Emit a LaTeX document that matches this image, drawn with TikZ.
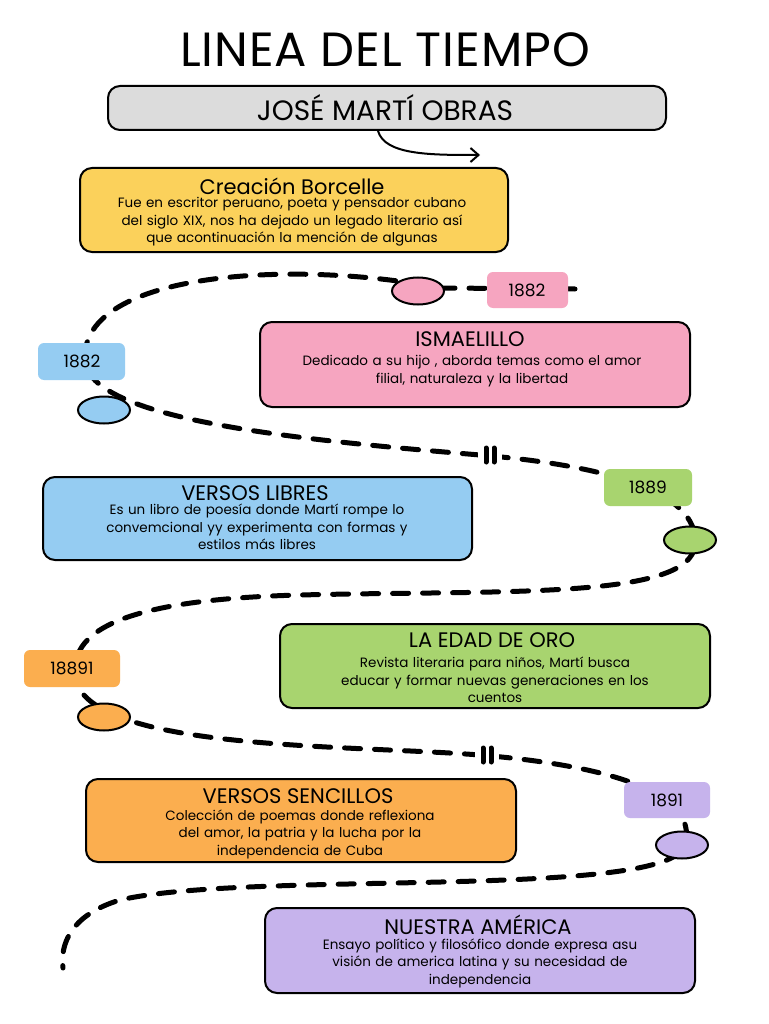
\documentclass[tikz,border=0pt]{standalone}
\usepackage{fontspec}
\setmainfont{Poppins}
\usetikzlibrary{arrows.meta,shapes.geometric}
\definecolor{yel}{HTML}{FBD15B}
\definecolor{pnk}{HTML}{F6A5C0}
\definecolor{blu}{HTML}{95CCF2}
\definecolor{grn}{HTML}{A8D46F}
\definecolor{org}{HTML}{FBAE4F}
\definecolor{pur}{HTML}{C6B3EC}
\definecolor{gry}{HTML}{DCDCDC}
\begin{document}
\begin{tikzpicture}[x=1pt,y=-1pt,
 box/.style={draw=black,line width=2pt,rounded corners=12pt,inner sep=0pt},
 lab/.style={rounded corners=6pt,inner sep=0pt,font=\fontsize{17}{20}\selectfont},
 dot/.style={draw=black,line width=2pt,ellipse,minimum width=52pt,minimum height=27pt,inner sep=0pt},
 tline/.style={line width=5pt,line cap=round,dash pattern=on 16pt off 14pt},
 ttl/.style={font=\fontsize{21}{24}\selectfont},
 body/.style={font=\fontsize{13.5}{17.5}\selectfont,align=center,text width=420pt}]
\useasboundingbox (0,0) rectangle (768,1024);
\fill[white] (0,0) rectangle (768,1024);
\node (title) at (385,50) {\fontsize{48}{56}\selectfont\addfontfeature{LetterSpace=2}LINEA DEL TIEMPO};
\draw[box,fill=gry] (108,86) rectangle (666,130);
\node (sub) at (385,108) {\fontsize{28}{32}\selectfont JOSÉ MARTÍ OBRAS};
\coordinate (a1) at (378,131); \coordinate (a2) at (480,155);
\draw[line width=2pt,-{Straight Barb[length=8pt,width=14pt]}] (a1) .. controls (385,155) and (430,155) .. (a2);
% dashed path
\draw[tline] (575,289) -- (440,288) .. controls (300,260) and (80,270) .. (85,360)
 .. controls (88,420) and (300,440) .. (480,455)
 .. controls (600,465) and (700,490) .. (695,545)
 .. controls (690,600) and (500,590) .. (300,595)
 .. controls (100,600) and (60,640) .. (80,690)
 .. controls (120,750) and (350,745) .. (480,755)
 .. controls (600,765) and (700,790) .. (685,845)
 .. controls (670,900) and (250,870) .. (120,900)
 .. controls (70,915) and (60,945) .. (63,968);
\foreach \x/\y in {490/455,487/755}{\fill[white] (\x-12,\y-14) rectangle (\x+12,\y+14);
 \draw[line width=5pt,line cap=round] (\x-4,\y-7)--(\x-4,\y+7) (\x+4,\y-7)--(\x+4,\y+7);}
% yellow
\draw[box,fill=yel] (80,168) rectangle (508,252);
\node[ttl] (t1) at (292,186) {Creación Borcelle};
\node[body] (b1) at (292,222) {Fue en escritor peruano, poeta y pensador cubano\\del siglo XIX,  nos ha dejado un legado literario así\\que acontinuación la mención de algunas};
% pink
\fill[pnk,lab] (487,272) rectangle (568,308); \node[lab] (l1) at (527,290) {1882};
\node[dot,fill=pnk] (c1) at (418,291) {};
\draw[box,fill=pnk] (260,322) rectangle (690,407);
\node[ttl] (t2) at (470,339) {ISMAELILLO};
\node[body] (b2) at (472,371) {Dedicado a su hijo , aborda temas como el amor\\filial, naturaleza y la libertad};
% blue
\fill[blu,lab] (38,343) rectangle (125,380); \node[lab] (l2) at (82,361) {1882};
\node[dot,fill=blu] (c2) at (104,410) {};
\draw[box,fill=blu] (43,477) rectangle (472,560);
\node[ttl] (t3) at (255,493) {VERSOS LIBRES};
\node[body] (b3) at (257,527) {Es un libro de poesía donde Martí rompe lo\\convemcional yy experimenta con formas y\\estilos más libres};
% green
\fill[grn,lab] (604,469) rectangle (692,506); \node[lab] (l3) at (648,487) {1889};
\node[dot,fill=grn] (c3) at (690,540) {};
\draw[box,fill=grn] (280,624) rectangle (710,708);
\node[ttl] (t4) at (492,640) {LA EDAD DE ORO};
\node[body] (b4) at (495,680) {Revista literaria para niños, Martí busca\\educar y formar nuevas generaciones en los\\cuentos};
% orange
\fill[org,lab] (24,650) rectangle (120,687); \node[lab] (l4) at (72,668) {18891};
\node[dot,fill=org] (c4) at (104,717) {};
\draw[box,fill=org] (86,779) rectangle (516,862);
\node[ttl] (t5) at (298,796) {VERSOS SENCILLOS};
\node[body] (b5) at (300,834) {Colección de poemas donde reflexiona\\del amor, la patria y la lucha por la\\independencia de Cuba};
% purple
\fill[pur,lab] (624,782) rectangle (710,818); \node[lab] (l5) at (667,800) {1891};
\node[dot,fill=pur] (c5) at (682,845) {};
\draw[box,fill=pur] (265,908) rectangle (695,993);
\node[ttl] (t6) at (478,925) {NUESTRA AMÉRICA};
\node[body] (b6) at (480,963) {Ensayo político y filosófico donde expresa asu\\visión de america latina y su necesidad de\\independencia};
\end{tikzpicture}
\end{document}
